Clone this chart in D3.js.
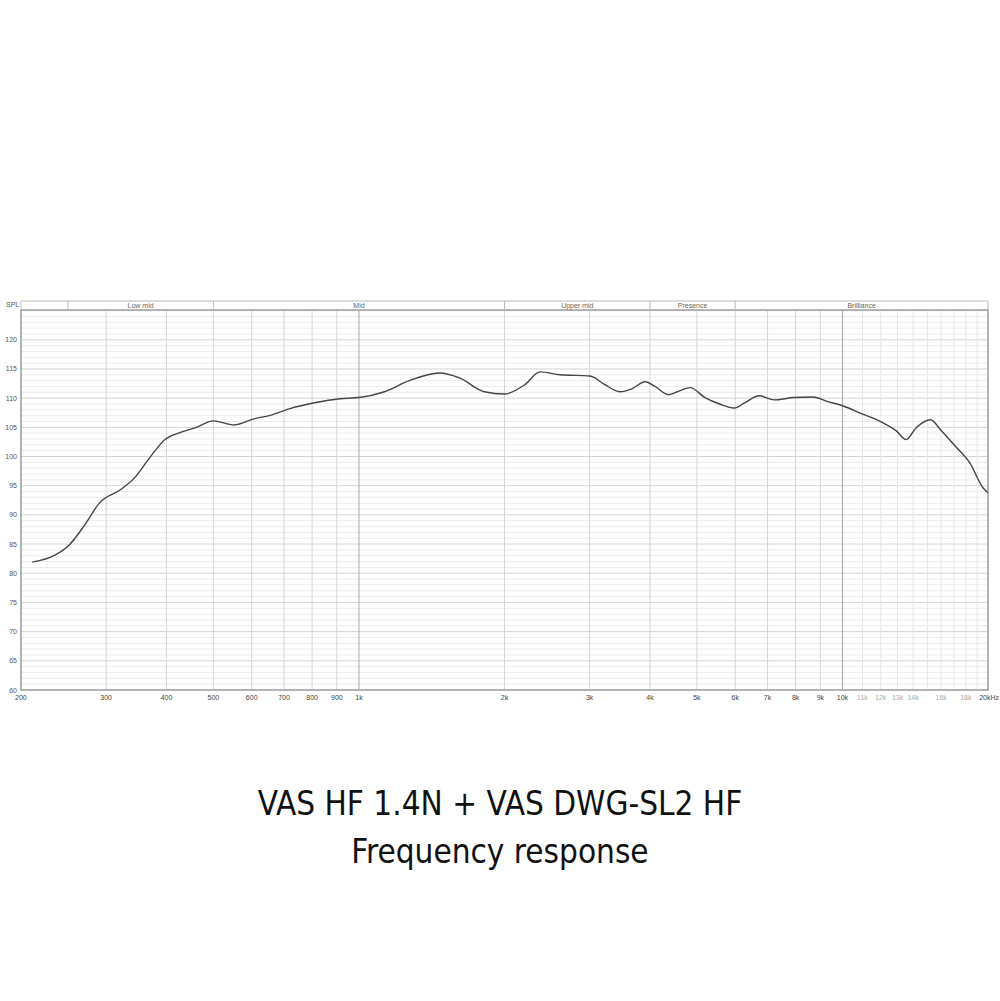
<!DOCTYPE html><html><head><meta charset="utf-8"><script src="https://cdn.jsdelivr.net/npm/d3@7"></script>
<style>body{margin:0;background:#fff}</style></head><body><svg id="c" width="1000" height="1001"></svg>
<script>
const freqs=[211,235,252,271,291,321,343,370,397,426,458,500,552,609,652,720,809,913,1000,1129,1271,1467,1610,1817,2000,2202,2368,2605,3005,3227,3465,3668,3905,4096,4359,4616,4843,5195,5572,5976,6274,6732,7222,7922,8695,9327,10004,10980,12045,12924,13545,14196,15220,15950,17102,18343,19545,20000];
const spl=[81.9,83.1,84.9,88.3,92.1,94.3,96.3,99.9,102.9,104.1,104.9,106.1,105.4,106.5,107.0,108.2,109.2,109.9,110.1,111.1,113.0,114.3,113.5,111.1,110.7,112.3,114.5,114.0,113.8,112.3,111.1,111.6,112.8,112.0,110.6,111.3,111.8,110.1,109.0,108.3,109.2,110.4,109.7,110.1,110.2,109.4,108.7,107.3,105.9,104.4,102.9,104.9,106.3,104.6,101.8,98.9,94.6,93.8];
const yTicks=[60,65,70,75,80,85,90,95,100,105,110,115,120];
const xTickVals=[200,300,400,500,600,700,800,900,1000,2000,3000,4000,5000,6000,7000,8000,9000,10000,11000,12000,13000,14000,16000,18000,20000];
const xTickLabels=["200","300","400","500","600","700","800","900","1k","2k","3k","4k","5k","6k","7k","8k","9k","10k","11k","12k","13k","14k","16k","18k","20kHz"];
const bands=[[200,250,""],[250,500,"Low mid"],[500,2000,"Mid"],[2000,4000,"Upper mid"],[4000,6000,"Presence"],[6000,20000,"Brilliance"]];
const svg=d3.select("#c");
const x=d3.scaleLog().domain([200,20000]).range([21,988]);
const y=d3.scaleLinear().domain([60,125.1]).range([690,310]);
const g=svg.append("g");
for(let v=60;v<=125;v++){g.append("line").attr("x1",21).attr("x2",988).attr("y1",y(v)).attr("y2",y(v)).attr("stroke",v%5==0?"#d4d4d4":"#ececec").attr("stroke-width",1);}
const vlines=[];for(let f=200;f<1000;f+=100)vlines.push(f);for(let f=1000;f<10000;f+=1000)vlines.push(f);for(let f=10000;f<=20000;f+=1000)vlines.push(f);
vlines.forEach(f=>g.append("line").attr("x1",x(f)).attr("x2",x(f)).attr("y1",310).attr("y2",690).attr("stroke",(f==1000||f==10000)?"#a8a8a8":(f>10000?"#e6e6e6":"#d6d6d6")));
g.append("rect").attr("x",21).attr("y",310).attr("width",967).attr("height",380).attr("fill","none").attr("stroke","#a0a0a0").attr("stroke-width",1.5);
bands.forEach(b=>{g.append("line").attr("x1",x(b[0])).attr("x2",x(b[0])).attr("y1",301).attr("y2",309).attr("stroke","#bbb");
 g.append("text").attr("x",(x(b[0])+x(b[1]))/2).attr("y",307.5).attr("text-anchor","middle").attr("font-family","Liberation Sans, Arial").attr("font-size",7).attr("fill","#666").text(b[2]);});
g.append("line").attr("x1",21).attr("x2",988).attr("y1",301).attr("y2",301).attr("stroke","#bbb");
g.append("line").attr("x1",988).attr("x2",988).attr("y1",301).attr("y2",309).attr("stroke","#bbb");
g.append("text").attr("x",6).attr("y",307).attr("font-family","Liberation Sans, Arial").attr("font-size",7).attr("fill","#555").text("SPL");
yTicks.forEach(v=>g.append("text").attr("x",17).attr("y",y(v)+2.5).attr("text-anchor","end").attr("font-family","Liberation Sans, Arial").attr("font-size",7).attr("fill","#555").text(v));
xTickVals.forEach((v,i)=>{const last=i==xTickVals.length-1;g.append("text").attr("x",i==0?x(v)-6:(last?999:x(v))).attr("y",700).attr("text-anchor",i==0?"start":(last?"end":"middle")).attr("font-family","Liberation Sans, Arial").attr("font-size",7).attr("fill",(v>10000&&v<20000)?"#aaa":"#444").text(xTickLabels[i]);});
const line=d3.line().x((d,i)=>x(freqs[i])).y(d=>y(d)).curve(d3.curveMonotoneX);
g.append("path").datum(spl).attr("d",line).attr("fill","none").attr("stroke","#444").attr("stroke-width",1.4);
svg.append("text").attr("x",500).attr("y",815).attr("text-anchor","middle").attr("font-family","DejaVu Sans").attr("font-stretch","condensed").attr("font-size",33).attr("fill","#111").text("VAS HF 1.4N + VAS DWG-SL2 HF");
svg.append("text").attr("x",500).attr("y",863).attr("text-anchor","middle").attr("font-family","DejaVu Sans").attr("font-stretch","condensed").attr("font-size",33).attr("fill","#111").text("Frequency response");
</script></body></html>
